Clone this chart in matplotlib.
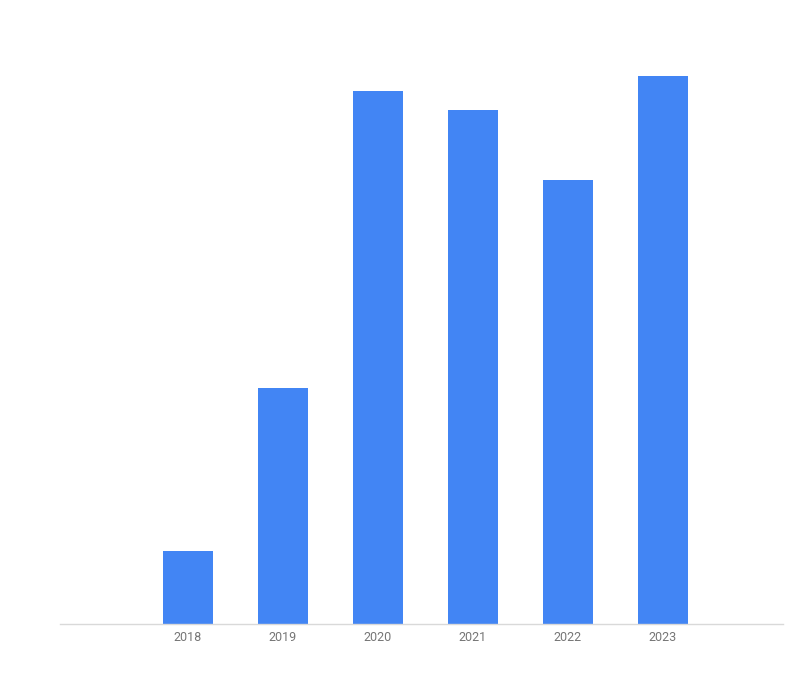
from matplotlib import pyplot as plt
import numpy as np

years = ['2018', '2019', '2020', '2021', '2022', '2023']
values = [73, 236, 533, 514, 444, 548]

plt.rcParams['font.family'] = ['Roboto', 'DejaVu Sans']

fig = plt.figure(figsize=(8, 6.76), dpi=100)
ax = fig.add_axes([0.075, 0.0769, 0.904, 0.834])

x = np.arange(len(years))
ax.bar(x, values, width=0.526, color='#4285F4', zorder=2)

ax.set_xlim(-1.342, 6.268)
ax.set_ylim(0, 564)
ax.set_xticks(x)
ax.set_xticklabels(years, fontsize=9, color='#757575')
ax.tick_params(axis='x', length=0, pad=5)
ax.set_yticks([])

for s in ['top', 'right', 'left']:
    ax.spines[s].set_visible(False)
ax.spines['bottom'].set_color('#d9d9d9')
ax.spines['bottom'].set_linewidth(1)

fig.savefig('out.png', dpi=100, facecolor='white')
